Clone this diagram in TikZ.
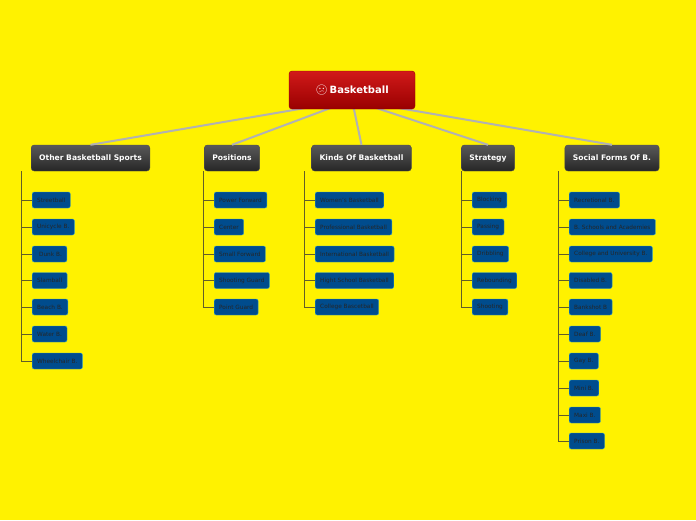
\documentclass[tikz,border=0pt]{standalone}
\usepackage{fontspec}
\setmainfont{DejaVu Sans}
\newfontfamily\emo{Noto Emoji}
\begin{document}
\begin{tikzpicture}[x=1pt,y=-1pt,
  rootbox/.style={draw=red!60!black,top color=red!80!black!90,bottom color=red!60!black,rounded corners=3pt,text=white,font=\bfseries\fontsize{10}{12}\selectfont,minimum width=126pt,minimum height=38pt},
  mainbox/.style={draw=black!70,top color=black!65,bottom color=black!85,rounded corners=3pt,text=white,font=\bfseries\fontsize{7.6}{9}\selectfont,minimum height=26pt,inner xsep=8pt},
  leaf/.style={draw=cyan!60!teal,fill=teal!70!blue!85!black,rounded corners=2pt,text=black!85,font=\fontsize{5.8}{7}\selectfont,minimum height=16pt,inner xsep=5pt,anchor=west},
  rootline/.style={draw=black!30,line width=2pt},
  tree/.style={draw=olive!60!black,line width=0.8pt}]
\fill[yellow] (0,0) rectangle (696,520);
\useasboundingbox (0,0) rectangle (696,520);
\node[mainbox] (m1) at (90.5,158) {Other Basketball Sports};
\node[mainbox] (m2) at (232,158) {Positions};
\node[mainbox] (m3) at (361.5,158) {Kinds Of Basketball};
\node[mainbox] (m4) at (488,158) {Strategy};
\node[mainbox] (m5) at (612,158) {Social Forms Of B.};
\coordinate (r) at (352,100);
\foreach \m in {m1,m2,m3,m4,m5} \draw[rootline] (r) -- (\m.north);
\node[rootbox] (root) at (352,90) {{\emo 😕}\,Basketball};
\def\ys{{200,227,254,280.5,307,334,361,388,415,441}}
\newcommand\branch[3]{% name, x-left, list
  \foreach \t [count=\i] in {#3} {
    \pgfmathsetmacro\yy{\ys[\i-1]}
    \node[leaf] (#1c\i) at (#2+18,\yy) {\t};
    \draw[tree] (#2+7,\yy) -- (#1c\i.west);
    \xdef\last{\yy}
  }
  \draw[tree] (#2+7,171) -- (#2+7,\last);
}
\branch{a}{14}{Streetball,Unicycle B.,{\ Dunk B.},Slamball,Beach B.,Water B.,Wheelchair B.}
\branch{b}{196}{Power Forward,Center,Small Forward,Shooting Guard,Point Guard}
\branch{c}{297}{Women's Basketball,Professional Basketball,International Basketball,Hight School Basketball,College Bascetball}
\branch{d}{454}{Blocking,Passing,Dribbling,Rebounding,Shooting}
\branch{e}{551}{Recretional B.,B. Schools and Academies,College and University B.,Disabled B.,Bankshot B,Deaf B.,Gay B.,Mini B.,Maxi B.,Prison B.}
\end{tikzpicture}
\end{document}
